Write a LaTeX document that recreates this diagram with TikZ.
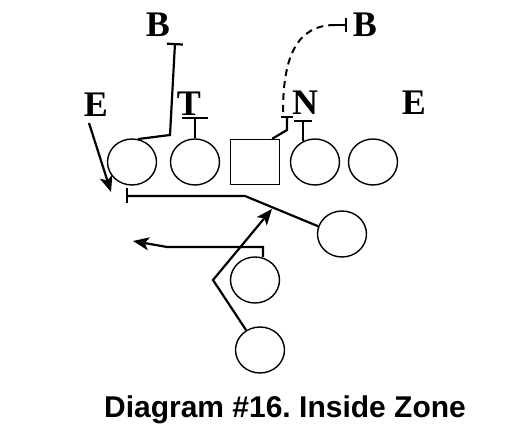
\documentclass[tikz,border=0pt]{standalone}
\usepackage{fontspec}
\setmainfont{Liberation Serif}
\setsansfont{Liberation Sans}
\usetikzlibrary{shapes.geometric,arrows.meta,calc}
\frenchspacing
\begin{document}
\begin{tikzpicture}[x=1pt,y=-1pt,
  player/.style={draw,ellipse,line width=1.4pt,minimum width=49pt,minimum height=46pt,inner sep=0pt},
  centre/.style={draw,rectangle,line width=1.4pt,minimum width=49pt,minimum height=45pt,inner sep=0pt},
  lbl/.style={font=\fontsize{36}{36}\selectfont\bfseries,inner sep=0pt},
  route/.style={line width=2.2pt,line join=miter},
  blk/.style={route,-{Bar[width=#1,line width=2.2pt]}},
  run/.style={route,-{Stealth[length=16pt,width=13pt,inset=4pt]}}]
\useasboundingbox (0,0) rectangle (527,435);
\node[player] (c1) at (132,162) {};
\node[player] (c2) at (195,162) {};
\node[centre] (sq) at (255,162) {};
\node[player] (c3) at (315,162) {};
\node[player] (c4) at (373,162) {};
\node[player] (c5) at (342,234) {};
\node[player] (c6) at (255,280) {};
\node[player] (c7) at (260,350) {};
\node[lbl] (bl) at (158,25) {B};
\node[lbl] (br) at (365,25) {B};
\node[lbl] (el) at (96,105) {E};
\node[lbl] (tl) at (189,104) {T};
\node[lbl] (nl) at (305,103) {N};
\node[lbl] (er) at (414,103) {E};
\node[font=\sffamily\bfseries\fontsize{30}{30}\selectfont,inner sep=0pt,anchor=base] (cap) at (285,417) {Diagram \#16. Inside Zone};
\coordinate (bbar) at (175,43);
\coordinate (tbar) at (195,117);
\coordinate (nbar) at (303,120);
\coordinate (cbar) at (287,116);
\coordinate (dbar) at (347,25);
\coordinate (ebar) at (126,196);
\coordinate (etip) at (111,192);
\coordinate (ltip) at (133,241);
\coordinate (rtip) at (272,209);
\draw[blk=16pt] (c1.75) -- (170,135) -- (bbar);
\draw[blk=26pt] (c2.north) -- (tbar);
\draw[blk=18pt] (c3.120) -- (c3.120 |- nbar);
\draw[blk=12pt] (sq.north east) ++(-8,0) -- (287,130) -- (cbar);
\draw[line width=2pt,dash pattern=on 7pt off 5pt] (283,112) .. controls (283,60) and (295,25) .. (335,25);
\draw[blk=14pt] (334,25) -- (dbar);
\draw[run] (89,123) -- (etip);
\draw[blk=15pt] (c5.162) -- (245,196) -- (ebar);
\draw[run] (263,257) -- (263,247) -- (167,247) -- (ltip);
\draw[run] (c7.125) -- (213,280) -- (rtip);
\end{tikzpicture}
\end{document}
